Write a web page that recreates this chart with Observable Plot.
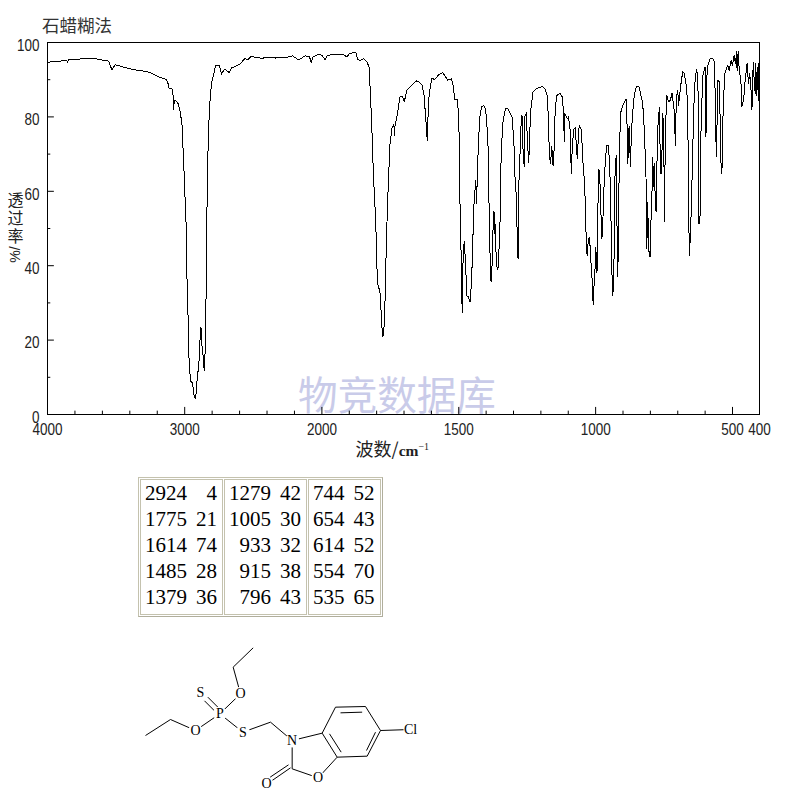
<!DOCTYPE html>
<html lang="zh">
<head>
<meta charset="utf-8">
<script src="https://cdn.jsdelivr.net/npm/d3@7"></script>
<script src="https://cdn.jsdelivr.net/npm/@observablehq/plot@0.6"></script>
<style>
html,body{margin:0;padding:0;background:#fff;}
#title{height:34px;padding-left:42px;font:17.5px/50px "Noto Sans CJK SC",sans-serif;color:#333;box-sizing:border-box;overflow:visible;}
svg{display:block;}
#peaks{margin:12px 0 0 138px;border-collapse:separate;border-spacing:1px;border:1px solid #c4c2ae;border-right-color:#b0ae9c;border-bottom-color:#b0ae9c;box-sizing:border-box;font:21px "Liberation Serif",serif;color:#000;}
#peaks td{border:1px solid #c4c2ae;padding:1px 5px 3px 4px;vertical-align:top;}
.g{display:grid;grid-template-columns:auto auto;column-gap:9px;justify-content:end;line-height:25.9px;text-align:right;}
#mol{margin-top:18px;}
</style>
</head>
<body>
<div id="title"></div>
<div id="spec"></div>
<table id="peaks"><tr id="peakRow"></tr></table>
<div id="mol"></div>
<script>
const sampleLabel = "石蜡糊法";
const xAxisLabelCn = "波数/";
const yAxisChars = ["透", "过", "率"];
const watermark = "物竞数据库";

const xTickLabels = [4000, 3000, 2000, 1500, 1000, 500, 400];
const xMajor = [3000, 2000, 1500, 1000, 500];
const xMinor = [3800, 3600, 3400, 3200, 2800, 2600, 2400, 2200, 1900, 1800, 1700, 1600, 1400, 1300, 1200, 1100, 900, 800, 700, 600];
const yTickLabels = [0, 20, 40, 60, 80, 100];
const yMajor = [20, 40, 60, 80];
const yMinor = [10, 30, 50, 70, 90];

// wavenumber, % transmittance
const spectrumHigh = [[4000,94.6],[3956,95],[3908,95],[3859,95.2],[3854,94.6],[3847,95.3],[3786,95.3],[3742,95.8],[3708,95.6],[3653,95.7],[3616,95.4],[3555,95],[3531,92.7],[3507,94],[3495,93.9],[3446,93.4],[3373,92.7],[3276,92.2],[3227,91.5],[3178,90.6],[3137,90.1],[3123,89.2],[3113,87.6],[3094,87.7],[3089,87.1],[3082,85],[3079,81.9],[3077,84.5],[3062,84.3],[3045,83.4],[3031,80.9],[3018,77.5],[3011,70.2],[3004,64.8],[2997,57.6],[2989,50.5],[2987,41.5],[2977,28.9],[2970,15.9],[2960,10.1],[2955,8.8],[2943,8.6],[2931,4.9],[2924,4.3],[2916,5.7],[2912,8.5],[2902,11.9],[2892,15.9],[2887,21.7],[2882,23.3],[2877,23.1],[2873,17.3],[2865,15.6],[2858,11.9],[2853,14.2],[2846,27.2],[2841,40.6],[2836,61.2],[2827,75.5],[2819,82.7],[2805,89],[2790,91.2],[2776,93.7],[2746,93.7],[2732,91.5],[2712,92.7],[2698,92.6],[2676,91.9],[2656,93.2],[2596,94.2],[2564,95.6],[2535,95.5],[2518,96.2],[2474,96],[2438,95.7],[2401,96.1],[2365,96.1],[2341,95.8],[2316,96.1],[2256,96],[2212,96.4],[2171,95.3],[2122,96.4],[2090,96.1],[2078,94.7],[2066,96.1],[2025,96.8],[2000,96.6]];
const spectrumCarbonyl = [[1988,95.4],[1979,96.6],[1957,96.7],[1921,96.8],[1909,96.1],[1899,97],[1882,97.3],[1876,97.3],[1870,95.5],[1860,95.1],[1854,95.5],[1846,95.6],[1836,94.8],[1828,93.5],[1824,88.1],[1818,78.2],[1812,64.8],[1806,55.8],[1801,46.8],[1800,40.6],[1795,34.8],[1788,33],[1784,28],[1781,23.6],[1777,20.9],[1773,23.6],[1769,31.2],[1766,41.5],[1763,50],[1757,63],[1751,72.9],[1744,76.9],[1737,78],[1735,75.1],[1733,77.5],[1724,80.9],[1714.6,85.4],[1705,85.4],[1699,84],[1690,87.2],[1672,88.5],[1654,89.7],[1642,89.2],[1634,88.5],[1627,85.8],[1620,79.1],[1615,73.6],[1613,79.1],[1608,86.3],[1599,90.3],[1587,90.1],[1575,91.2],[1559,91.9],[1548,90.8],[1541,89.9],[1526,90.2],[1520,88.1],[1514,84.5],[1506,84.8]];
const spectrumMid = [[1502,81.8],[1498,73.7],[1496,58.5],[1492,45],[1490,36.5],[1487.5,27.3],[1486,33.4],[1484,43.2],[1480,46.4],[1475,40.5],[1471,32],[1465,31.6],[1459,30.2],[1456,32.5],[1451,40.5],[1445,55.8],[1438,63],[1434,56.7],[1433,63.4],[1427,74.6],[1423,80],[1417,82.7],[1408,83],[1402,82.2],[1396,76.4],[1393,72],[1390,58.5],[1387,49.5],[1385,38.8],[1382,35.6],[1378,40.5],[1376,47.7],[1372,54.5],[1370,48.6],[1369,54.2],[1366,47.7],[1362,40],[1357,38.8],[1354,43.2],[1350,47.7],[1347,64],[1344,72],[1338,79],[1329.5,82.2],[1320,82.2],[1314,81.3],[1305,80],[1298,72],[1293,60.3],[1289,59.4],[1287,49.5],[1285,42.4],[1283.4,41.9],[1281,47.7],[1280,63],[1277,67.5],[1275,73.7],[1271,80],[1269,80.5],[1265,70.6],[1261,66.6],[1259,80],[1253,81.1],[1249,72.8],[1244,67.6],[1242,73.7],[1237,81.8],[1229,86.7],[1216,87.6],[1195,88.2],[1185,87.6],[1176,85.4],[1172,78.2],[1169,69.7],[1165,67.5],[1160,72],[1156,67],[1153,67],[1151,75.5],[1147,82.7],[1141,85.8],[1129,86.3],[1122,85.4],[1117,80.9],[1114.5,73.3],[1112,80.9],[1107,80],[1103,79.5],[1099,80],[1093,76.4],[1089,64.8],[1085,72.4],[1080,76.6],[1074,77.1],[1071,72.8],[1067,68.8],[1062,76.4],[1059,77.7],[1052,76.4],[1046,67.5],[1040,62],[1037,54],[1034,46],[1031,42.6],[1027,46.8],[1023,47.5],[1020,45],[1016,39.6],[1012.5,36],[1009,29.6],[1005,36],[1001,40.5],[999,45],[997,38.3],[995,38.3],[994,45],[992,54.9],[988,66],[984.5,63],[981,55],[977,47.3],[974,51],[970,60.3],[965,67.5],[960,72.4],[953,72.4],[948,65.7],[944,53.1],[942,40.6],[939,35.6],[937,32],[933,40.5],[930,63],[925,69.7],[921,45],[919,37.2],[916.5,49.5],[913,72.8],[907,81.8],[898,83.6],[888.5,84.7],[885,77.3],[882,67.5],[880,76.4],[877,77.3],[873,66.6],[869,76.4],[864,81.8],[858,86.3],[850,88.3],[842,88.3],[836,86.3],[828,83.6],[822,76.4],[816,63.9],[813,44.6],[810,57.1],[806,44.2],[801,42.3]];
const spectrumLow = [[797.4,53.1],[794,60.3],[791,69.2],[789,61.2],[785,67.5],[782,55.8],[779,54.5],[776,67.5],[772,78.2],[767,82.5],[763,64.8],[759,64.8],[755,80.9],[751,76.4],[749,51.8],[745,76.4],[740,85.8],[733,84],[727,84.5],[721,86.3],[716,83.6],[712,81],[709,72.4],[705,85.4],[700,87.2],[697,83.1],[690,88],[682,92.1],[676,91.7],[670,89],[664,84],[660,56.7],[658,42.8],[654,47.7],[650,56.7],[645,72],[639,88],[633,92.1],[630,92.7],[625,85.4],[622.5,51.3],[619,51.3],[615,76.4],[609,90.8],[600,93.4],[597,74.6],[593,91.6],[589,94.3],[581,95.7],[573,95.7],[565,94.8],[562,76.4],[558,69.4],[554.5,89.9],[548,89.4],[542,67.5],[538.7,64.8],[534,82.7],[528,91.6],[518,93.9],[512,92.5],[505,95.2],[500,93.9],[494,96.6],[489,94.3],[485,97.5],[483,92.5],[479,97.7],[475,92.5],[469,89.9],[465.5,82.7],[459,84.5],[453,89.9],[446,94.3],[441,89],[436,91.6],[432,88],[428,81.8],[425,91.6],[422,94.6],[420,89.9],[416,86.3],[414,94.3],[410,85.8],[406,93.4],[405,84.5],[402.5,94.3],[400,89.9]];
const spectrum = [...spectrumHigh, ...spectrumCarbonyl, ...spectrumMid, ...spectrumLow];

const peakWavenumbers = [2924, 1775, 1614, 1485, 1379, 1279, 1005, 933, 915, 796, 744, 654, 614, 554, 535];
const peakTransmittance = [4, 21, 74, 28, 36, 42, 30, 32, 38, 43, 52, 43, 52, 70, 65];

// structure: atom name, drawing coordinates in arbitrary units, label
const atoms = [
  ["Me1",45,300,""],["C1",120,252,""],["O1",195,285,"O"],["P",268,235,"P"],["S1",210,172,"S"],
  ["O2",330,175,"O"],["C2",308,95,""],["Me2",368,37,""],["S2",337,290,"S"],["CH2",420,260,""],
  ["N",485,315,"N"],["CO",485,400,""],["Oexo",408,445,"O"],["Oring",563,427,"O"],
  ["C3a",575,293,""],["C7a",620,365,""],["C7",710,362,""],["C6",750,285,""],["C5",705,213,""],["C4",615,215,""],["Cl",840,282,"Cl"]
];
const bonds = [
  ["Me1","C1"],["C1","O1"],["O1","P"],["P","O2"],["O2","C2"],["C2","Me2"],["P","S2"],["S2","CH2"],["CH2","N"],
  ["N","C3a"],["N","CO"],["CO","Oring"],["Oring","C7a"],["C3a","C7a"],["C7a","C7"],["C7","C6"],["C6","C5"],["C5","C4"],["C4","C3a"],["C6","Cl"]
];
const doubleBondLines = [
  [232,185,262,215],[222,196,254,228],
  [480,397,425,435],[474,388,419,425],
  [597,295,632,350],[708,345,735,290],[630,232,695,230]
];

document.getElementById("title").textContent = sampleLabel;

const numFont = "'Liberation Sans',sans-serif";
const cjkFont = "'Noto Sans CJK SC',sans-serif";

const chart = Plot.plot({
  width: 794, height: 431,
  marginTop: 8, marginBottom: 51, marginLeft: 47, marginRight: 35,
  x: {type: "linear", domain: [4000, 2000, 500, 400], range: [47, 321.4, 732, 759], label: null},
  y: {domain: [0, 100], label: null},
  style: {background: "#fff", color: "#000"},
  marks: [
    Plot.text([watermark], {
      text: d => d, x: () => 1725.6, y: () => 4.6, fontSize: 39.6, fontFamily: cjkFont,
      fill: "#c9cbe9", textAnchor: "middle", lineAnchor: "middle"
    }),
    Plot.ruleX(xMajor, {x: d => d, y1: () => 0, y2: () => 1.9, stroke: "#000"}),
    Plot.ruleX(xMinor, {x: d => d, y1: () => 0, y2: () => 0.9, stroke: "#000"}),
    Plot.ruleY(yMajor, {y: d => d, x1: () => 4000, x2: () => 3950, stroke: "#000"}),
    Plot.ruleY(yMinor, {y: d => d, x1: () => 4000, x2: () => 3976, stroke: "#000"}),
    Plot.line(spectrum, {x: d => d[0], y: d => d[1], stroke: "#000", strokeWidth: 1, curve: "linear", shapeRendering: "crispEdges"}),
    Plot.frame({stroke: "#000", strokeWidth: 1}),
    Plot.axisX({ticks: xTickLabels, tickFormat: d => String(d), tickSize: 0, tickPadding: 9, anchor: "bottom", label: null, fontSize: 16.5, fontFamily: numFont, fill: "#222"}),
    Plot.axisY({ticks: yTickLabels, tickFormat: d => String(d), tickSize: 0, tickPadding: 8, dy: 3, anchor: "left", label: null, fontSize: 16.5, fontFamily: numFont, fill: "#222"}),
    Plot.text([yAxisChars.join("\n")], {
      text: d => d, y: () => 52.8, frameAnchor: "left", dx: -32, fontSize: 16, lineHeight: 1.125,
      fontFamily: cjkFont, fill: "#222", textAnchor: "middle", lineAnchor: "middle"
    }),
    Plot.text(["%/"], {
      text: d => d, y: () => 43.0, frameAnchor: "left", dx: -32, rotate: -90, fontSize: 14,
      fontFamily: numFont, fill: "#222", textAnchor: "middle", lineAnchor: "middle"
    }),
    Plot.text([xAxisLabelCn], {
      text: d => d, x: () => 1877, frameAnchor: "bottom", dy: 36, fontSize: 18,
      fontFamily: cjkFont, fill: "#222", textAnchor: "start", lineAnchor: "middle", className: "xlab"
    })
  ]
});

// tick labels: the reference uses a narrow face, so condense the installed one
d3.select(chart).selectAll('g[aria-label="x-axis tick label"] text, g[aria-label="y-axis tick label"] text').each(function () {
  const s = this.textContent;
  d3.select(this).attr("textLength", s.length * 7.5).attr("lengthAdjust", "spacingAndGlyphs");
});
// unit of the x axis: serif, with a raised exponent
d3.select(chart).selectAll(".xlab text").each(function () {
  const t = d3.select(this);
  t.append("tspan").attr("font-family", "'Liberation Serif',serif").attr("font-weight", "bold").attr("font-size", 15.5).text("cm");
  t.append("tspan").attr("font-family", "'Liberation Serif',serif").attr("font-size", 10).attr("dy", -6).text("−1");
});
document.getElementById("spec").appendChild(chart);

// peak table
const row = d3.select("#peakRow");
d3.range(3).forEach(c => {
  const grid = row.append("td").append("div").attr("class", "g");
  d3.range(5).forEach(r => {
    const i = c * 5 + r;
    grid.append("span").text(peakWavenumbers[i]);
    grid.append("span").text(peakTransmittance[i]);
  });
});

// structure drawing
const atomBy = new Map(atoms.map(a => [a[0], a]));
const labelled = atoms.filter(a => a[3]);
const mol = Plot.plot({
  width: 794, height: 155, margin: 0,
  x: {domain: [0, 900], range: [130, 430], axis: null},
  y: {domain: [0, 465], range: [0, 155], axis: null},
  style: {background: "transparent", color: "#000"},
  marks: [
    Plot.link(bonds, {
      x1: d => atomBy.get(d[0])[1], y1: d => atomBy.get(d[0])[2],
      x2: d => atomBy.get(d[1])[1], y2: d => atomBy.get(d[1])[2],
      stroke: "#000", strokeWidth: 1
    }),
    Plot.link(doubleBondLines, {x1: d => d[0], y1: d => d[1], x2: d => d[2], y2: d => d[3], stroke: "#000", strokeWidth: 1}),
    Plot.dot(labelled, {x: d => d[1], y: d => d[2], r: 7, fill: "#fff"}),
    Plot.text(labelled, {
      x: d => d[1], y: d => d[2], text: d => d[3], fontSize: 14, fontFamily: "'Liberation Serif',serif",
      fill: "#000", textAnchor: "middle", lineAnchor: "middle"
    })
  ]
});
document.getElementById("mol").appendChild(mol);
</script>
</body>
</html>
